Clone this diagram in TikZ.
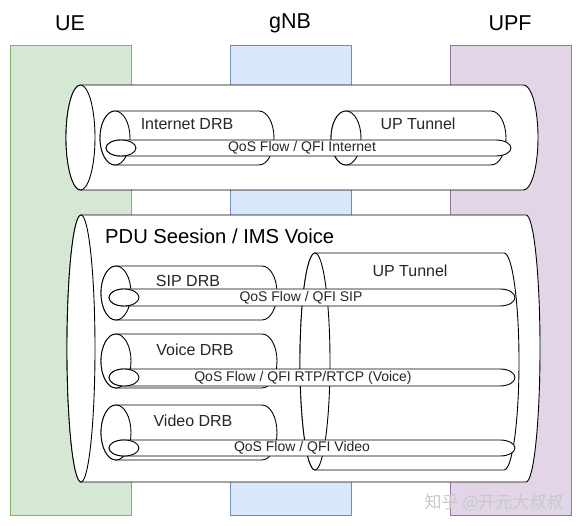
\documentclass[tikz,border=0pt]{standalone}
\usepackage{fontspec}
\setmainfont{Liberation Sans}
\newfontfamily\cjk{Noto Sans CJK SC}
\definecolor{uefill}{HTML}{D5E8D4}\definecolor{uedraw}{HTML}{82B366}
\definecolor{gnbfill}{HTML}{DAE8FC}\definecolor{gnbdraw}{HTML}{6C8EBF}
\definecolor{upffill}{HTML}{E1D5E7}\definecolor{upfdraw}{HTML}{9673A6}
\definecolor{wmark}{RGB}{200,200,200}

% horizontal cylinder: x1 y1 x2 y2 rx (pixel units, y downwards)
\newcommand\hcyl[5]{%
  \pgfmathsetmacro\cyA{#1+#5}%
  \pgfmathsetmacro\cyB{#3-#5}%
  \pgfmathsetmacro\cyR{(#4-#2)/2}%
  \pgfmathsetmacro\cyM{(#2+#4)/2}%
  \draw[cylline] (\cyA,#2) -- (\cyB,#2)
    arc[start angle=-90,end angle=90,x radius=#5,y radius=\cyR]
    -- (\cyA,#4)
    arc[start angle=90,end angle=270,x radius=#5,y radius=\cyR] -- cycle;
  \draw[cylline] (\cyA,\cyM) ellipse[x radius=#5,y radius=\cyR];
}

\begin{document}
\begin{tikzpicture}[x=1pt,y=-1pt,
  cylline/.style={draw=black,fill=white,line width=0.9pt},
  column/.style={line width=0.8pt},
  title/.style={font=\fontsize{21.5}{25}\selectfont,inner sep=0pt},
  pipelabel/.style={font=\fontsize{16}{19}\selectfont,inner sep=0pt,text=black!85},
  flowlabel/.style={font=\fontsize{14}{16}\selectfont,inner sep=0pt,text=black!85},
  bigtitle/.style={font=\fontsize{20.2}{24}\selectfont,inner sep=0pt,anchor=west}]
\useasboundingbox (0,0) rectangle (583,526);

% network element columns
\draw[column,fill=uefill,draw=uedraw] (10,45) rectangle (131,515);
\draw[column,fill=gnbfill,draw=gnbdraw] (230,45) rectangle (351,515);
\draw[column,fill=upffill,draw=upfdraw] (450,45) rectangle (571,515);
\node[title] (ue) at (70,23) {UE};
\node[title] (gnb) at (290,23) {gNB};
\node[title] (upf) at (510,23) {UPF};

% internet PDU session
\hcyl{66}{85}{538}{190}{14.5}
\hcyl{100}{111}{274}{165}{15}
\hcyl{331}{111}{506}{165}{15}
\hcyl{106}{140}{511}{156}{15}
\node[pipelabel] (idrb) at (187,124) {Internet DRB};
\node[pipelabel] (itun) at (418,124) {UP Tunnel};
\node[flowlabel] (iflow) at (302,148) {QoS Flow / QFI Internet};

% IMS voice PDU session
\hcyl{67}{215}{540}{482}{14}
\node[bigtitle] (pdu) at (105,236) {PDU Seesion / IMS Voice};
\hcyl{300}{253}{519}{470}{15}
\node[pipelabel] (vtun) at (410,271) {UP Tunnel};
\hcyl{101}{266}{277}{320}{15}
\hcyl{101}{334}{277}{388}{15}
\hcyl{101}{405}{277}{460}{15}
\node[pipelabel] (sipdrb) at (188,281) {SIP DRB};
\node[pipelabel] (voicedrb) at (195,350) {Voice DRB};
\node[pipelabel] (videodrb) at (193,421) {Video DRB};
\hcyl{109}{289}{515}{306}{15}
\hcyl{109}{369}{515}{386}{15}
\hcyl{109}{440}{515}{456}{15}
\node[flowlabel] (sipflow) at (301,298) {QoS Flow / QFI SIP};
\node[flowlabel] (voiceflow) at (303,378) {QoS Flow / QFI RTP/RTCP (Voice)};
\node[flowlabel] (videoflow) at (302,448) {QoS Flow / QFI Video};

% watermark
\node[font=\cjk\fontsize{17}{20}\selectfont,text=wmark,inner sep=0pt] (wm) at (494,503) {知乎 @开元大叔叔};
\end{tikzpicture}
\end{document}
